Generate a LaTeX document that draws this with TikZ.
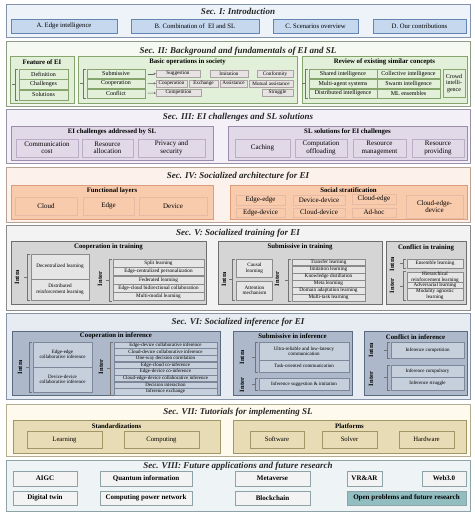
\documentclass[tikz,border=0pt]{standalone}
\usepackage{fontspec}
\setmainfont{Liberation Serif}
\usetikzlibrary{arrows.meta, positioning, calc}

\definecolor{introback}{HTML}{EEF3FA}
\definecolor{introline}{HTML}{8393AB}
\definecolor{introfill}{HTML}{C5D8EE}
\definecolor{introdraw}{HTML}{6285B2}
\definecolor{bgback}{HTML}{F5F9F1}
\definecolor{bgline}{HTML}{8E9C86}
\definecolor{bgfill}{HTML}{E2EFD9}
\definecolor{bgdraw}{HTML}{86A56C}
\definecolor{opfill}{HTML}{E8E3E3}
\definecolor{opdraw}{HTML}{ABA3A3}
\definecolor{chback}{HTML}{F3F1F7}
\definecolor{chline}{HTML}{9892A6}
\definecolor{chfill}{HTML}{E1D9E8}
\definecolor{chdraw}{HTML}{9D8BAE}
\definecolor{archback}{HTML}{FCF2EB}
\definecolor{archline}{HTML}{B9A293}
\definecolor{archfill}{HTML}{F8CBAD}
\definecolor{archdraw}{HTML}{DD9C7C}
\definecolor{trback}{HTML}{F3F3F3}
\definecolor{trline}{HTML}{8C8C8C}
\definecolor{trfill}{HTML}{D5D5D5}
\definecolor{trdraw}{HTML}{6E6E6E}
\definecolor{trcellfill}{HTML}{E5E5E5}
\definecolor{infback}{HTML}{E7ECF2}
\definecolor{infline}{HTML}{8793A6}
\definecolor{inffill}{HTML}{ADB9CA}
\definecolor{infdraw}{HTML}{5B6A80}
\definecolor{infcellfill}{HTML}{C6CFDC}
\definecolor{tutback}{HTML}{FEFAEE}
\definecolor{tutline}{HTML}{B4AC90}
\definecolor{tutfill}{HTML}{E8DCB6}
\definecolor{tutdraw}{HTML}{A19668}
\definecolor{futback}{HTML}{EEF4F6}
\definecolor{futline}{HTML}{8EA3A8}
\definecolor{futfill}{HTML}{F3F3F3}
\definecolor{futopen}{HTML}{92BDC1}

\tikzset{
  secframe/.style={
    draw,
    rectangle,
    line width=0.8pt,
    minimum width=464,
    inner sep=0pt
  },
  grpframe/.style={
    draw,
    rectangle,
    line width=0.6pt,
    inner sep=0pt
  },
  boxcell/.style={
    draw,
    rectangle,
    line width=0.4pt,
    inner sep=0pt,
    align=center
  },
  sectitle/.style={
    font=\fontsize{9}{10}\selectfont\bfseries\itshape,
    text=black!85,
    inner sep=0pt
  },
  grptitle/.style={
    font=\fontsize{6.8}{7}\selectfont\bfseries,
    inner sep=0pt
  },
  sidelabel/.style={
    rotate=90,
    font=\fontsize{6.5}{7}\selectfont\bfseries,
    inner sep=0pt
  },
  braceline/.style={
    draw=black!55,
    line width=0.35pt
  },
  oparrow/.style={
    -{Stealth[length=2.2pt,width=2.2pt]},
    line width=0.35pt,
    black!60,
    shorten <=2.5pt
  },
  introsec/.style={secframe, draw=introline, fill=introback},
  introcell/.style={boxcell, draw=introdraw, fill=introfill, font=\fontsize{6.7}{7}\selectfont},
  bgsec/.style={secframe, draw=bgline, fill=bgback},
  bggrp/.style={grpframe, draw=bgdraw, fill=bgfill},
  bgcell/.style={boxcell, draw=bgdraw, fill=bgfill, font=\fontsize{6}{6.4}\selectfont},
  opcell/.style={boxcell, draw=opdraw, fill=opfill, minimum height=7, font=\fontsize{5.2}{5.5}\selectfont},
  chsec/.style={secframe, draw=chline, fill=chback},
  chgrp/.style={grpframe, draw=chdraw, fill=chfill},
  chcell/.style={boxcell, draw=chdraw!70, fill=chfill, minimum height=18, font=\fontsize{7}{7.4}\selectfont},
  archsec/.style={secframe, draw=archline, fill=archback},
  archgrp/.style={grpframe, draw=archdraw, fill=archfill},
  archcell/.style={boxcell, draw=archdraw!70, fill=archfill, font=\fontsize{7}{7.4}\selectfont},
  trsec/.style={secframe, draw=trline, fill=trback},
  trgrp/.style={grpframe, draw=trdraw, fill=trfill},
  trcell/.style={boxcell, draw=trdraw!80, fill=trcellfill, font=\fontsize{5.2}{5.6}\selectfont},
  infsec/.style={secframe, draw=infline, fill=infback},
  infgrp/.style={grpframe, draw=infdraw, fill=inffill},
  infcell/.style={boxcell, draw=infdraw!80, fill=infcellfill, font=\fontsize{5}{5.4}\selectfont},
  tutsec/.style={secframe, draw=tutline, fill=tutback},
  tutgrp/.style={grpframe, draw=tutdraw, fill=tutfill},
  tutcell/.style={boxcell, draw=tutdraw, fill=tutfill, minimum height=17, font=\fontsize{6.7}{7}\selectfont},
  futsec/.style={secframe, draw=futline, fill=futback},
  futcell/.style={boxcell, draw=futline, fill=futfill, minimum height=14.5, font=\fontsize{7}{7}\selectfont\bfseries}
}

% crochet a gauche d'une pile de cases
\newcommand{\sidebrace}[2]{%
  \draw[braceline] ($(#1.north west)+(-1,0)$) -- ($(#1.north west)+(-4,0)$)
    -- ($(#1.north west |- #2.south west)+(-4,0)$) -- ($(#1.north west |- #2.south west)+(-1,0)$);
  \draw[braceline] ($(#1.north west)!0.5!(#1.north west |- #2.south west)+(-4,0)$) -- ++(-3,0);
}

\begin{document}
\begin{tikzpicture}[x=1pt, y=-1pt]
  \useasboundingbox (0,0) rectangle (474,513);

  % Sec. I
  \node[introsec, minimum height=33] (s1) at (238,20.5) {};
  \node[sectitle] (s1t) at (238,11) {Sec. I: Introduction};
  \node[introcell, minimum width=106, minimum height=14] (edgeint) at (64,26) {A. Edge intelligence};
  \node[introcell, minimum width=128, minimum height=14] (combin) at (195,26) {B. Combination of \ EI and SL};
  \node[introcell, minimum width=85, minimum height=14] (scenar) at (315.5,26) {C. Scenarios overview};
  \node[introcell, minimum width=93, minimum height=14] (contrib) at (419.5,26) {D. Our contributions};

  % Sec. II
  \node[bgsec, minimum height=65] (s2) at (238,73.5) {};
  \node[sectitle] (s2t) at (238,51) {Sec. II: Background and fundamentals of EI and SL};
  \node[bggrp, minimum width=64, minimum height=47] (feat) at (42,79.5) {};
  \node[grptitle] (featt) at (42,62) {Feature of EI};
  \node[bgcell, minimum width=49, minimum height=10] (defin) at (43.5,74) {Definition};
  \node[bgcell, minimum width=49, minimum height=10, below=0pt of defin] (chall) {Challenges};
  \node[bgcell, minimum width=49, minimum height=10, below=0pt of chall] (solut) {Solutions};
  \sidebrace{defin}{solut}

  \node[bggrp, minimum width=219, minimum height=47] (basic) at (187.5,79.5) {};
  \node[grptitle] (basict) at (187.5,62) {Basic operations in society};
  \node[bgcell, minimum width=58, minimum height=9.5] (subm) at (116,73.75) {Submissive};
  \node[bgcell, minimum width=58, minimum height=9.5, below=0pt of subm] (coop) {Cooperation};
  \node[bgcell, minimum width=58, minimum height=9.5, below=0pt of coop] (confl) {Conflict};
  \sidebrace{subm}{confl}
  \node[opcell, minimum width=44] (sugg) at (178,73.75) {Suggestion};
  \node[opcell, minimum width=38] (imit) at (229,73.75) {Imitation};
  \node[opcell, minimum width=36] (conform) at (275,73.75) {Conformity};
  \node[opcell, minimum width=31] (coopop) at (171.5,83.25) {Cooperation};
  \node[opcell, minimum width=29] (exch) at (203.5,83.25) {Exchange};
  \node[opcell, minimum width=27] (assist) at (233.5,83.25) {Assistance};
  \node[opcell, minimum width=44] (mutual) at (271,83.25) {Mutual assistance};
  \node[opcell, minimum width=45] (compet) at (178.5,92.75) {Competition};
  \node[opcell, minimum width=31] (strug) at (277.5,92.75) {Struggle};
  \draw[oparrow] (subm) -- (sugg);
  \draw[oparrow] (coop) -- (coopop);
  \draw[oparrow] (confl) -- (compet);

  \node[bggrp, minimum width=165, minimum height=47] (review) at (384.5,79.5) {};
  \node[grptitle] (reviewt) at (384.5,62) {Review of existing similar concepts};
  \node[bgcell, minimum width=68, minimum height=9.5] (shared) at (343,73.75) {Shared intelligence};
  \node[bgcell, minimum width=68, minimum height=9.5, below=0pt of shared] (multiag) {Multi-agent systems};
  \node[bgcell, minimum width=68, minimum height=9.5, below=0pt of multiag] (distint) {Distributed intelligence};
  \node[bgcell, minimum width=63, minimum height=9.5] (collect) at (408.5,73.75) {Collective intelligence};
  \node[bgcell, minimum width=63, minimum height=9.5, below=0pt of collect] (swarm) {Swarm intelligence};
  \node[bgcell, minimum width=63, minimum height=9.5, below=0pt of swarm] (mlens) {ML ensembles};
  \node[bgcell, minimum width=22, minimum height=28.5] (crowd) at (454,83.25) {Crowd\\intelli-\\gence};
  \sidebrace{shared}{distint}

  % Sec. III
  \node[chsec, minimum height=54] (s3) at (238,136) {};
  \node[sectitle] (s3t) at (238,117) {Sec. III: EI challenges and SL solutions};
  \node[chgrp, minimum width=202, minimum height=34] (addr) at (112,143) {};
  \node[grptitle] (addrt) at (112,132) {EI challenges addressed by SL};
  \node[chcell, minimum width=62] (commcost) at (47,148) {Communication\\cost};
  \node[chcell, minimum width=51] (resalloc) at (107.5,148) {Resource\\allocation};
  \node[chcell, minimum width=67] (privsec) at (171.5,148) {Privacy and\\security};
  \node[chgrp, minimum width=239, minimum height=34] (solfor) at (347.5,143) {};
  \node[grptitle] (solfort) at (347.5,132) {SL solutions for EI challenges};
  \node[chcell, minimum width=55] (caching) at (262.5,148) {Caching};
  \node[chcell, minimum width=52] (offload) at (321,148) {Computation\\offloading};
  \node[chcell, minimum width=53] (resmgmt) at (379.5,148) {Resource\\management};
  \node[chcell, minimum width=52] (resprov) at (438,148) {Resource\\providing};

  % Sec. IV
  \node[archsec, minimum height=55] (s4) at (238,194.5) {};
  \node[sectitle] (s4t) at (238,176) {Sec. IV: Socialized architecture for EI};
  \node[archgrp, minimum width=202, minimum height=34] (layers) at (112,202) {};
  \node[grptitle] (layerst) at (112,191) {Functional layers};
  \node[archcell, minimum width=62, minimum height=18] (cloud) at (46,206) {Cloud};
  \node[archcell, minimum width=51, minimum height=18] (edge) at (108.5,206) {Edge};
  \node[archcell, minimum width=68, minimum height=18] (device) at (173,206) {Device};
  \node[archgrp, minimum width=237, minimum height=34] (strat) at (348.5,202) {};
  \node[grptitle] (stratt) at (348.5,190) {Social stratification};
  \node[archcell, minimum width=49, minimum height=9.5] (edgeedge) at (260.5,200) {Edge-edge};
  \node[archcell, minimum width=49, minimum height=9.5] (edgedev) at (260.5,212.5) {Edge-device};
  \node[archcell, minimum width=52, minimum height=9.5] (devdev) at (319,200) {Device-device};
  \node[archcell, minimum width=52, minimum height=9.5] (clouddev) at (319,212.5) {Cloud-device};
  \node[archcell, minimum width=44, minimum height=9.5] (cloudedge) at (374,199) {Cloud-edge};
  \node[archcell, minimum width=44, minimum height=9.5] (adhoc) at (374,212.5) {Ad-hoc};
  \node[archcell, minimum width=57, minimum height=23] (cloudedgedev) at (434.5,206.5) {Cloud-edge-\\device};

  % Sec. V
  \node[trsec, minimum height=85] (s5) at (238,267.5) {};
  \node[sectitle] (s5t) at (238,233) {Sec. V: Socialized training for EI};
  \node[trgrp, minimum width=195, minimum height=63] (cooptr) at (108.5,272.5) {};
  \node[grptitle] (cooptrt) at (108.5,247) {Cooperation in training};
  \node[sidelabel] (cooptrintra) at (17,277) {Intra};
  \node[trcell, minimum width=58, minimum height=25] (decent) at (60,266.5) {Decentralized learning};
  \node[trcell, minimum width=58, minimum height=21] (distrl) at (60,289.5) {Distributed\\reinforcement learning};
  \sidebrace{decent}{distrl}
  \node[sidelabel] (cooptrinter) at (100,279) {Inter};
  \node[trcell, minimum width=91, minimum height=8] (split) at (158.5,263) {Split learning};
  \node[trcell, minimum width=91, minimum height=8, below=0pt of split] (edgecent) {Edge-centralized personalization};
  \node[trcell, minimum width=91, minimum height=8, below=0pt of edgecent] (fedl) {Federated learning};
  \node[trcell, minimum width=91, minimum height=8, below=0pt of fedl] (bidir) {Edge-cloud bidirectional collaboration};
  \node[trcell, minimum width=91, minimum height=8, below=0pt of bidir] (multimod) {Multi-modal learning};
  \sidebrace{split}{multimod}

  \node[trgrp, minimum width=164, minimum height=63] (subtr) at (300,272.5) {};
  \node[grptitle] (subtrt) at (300,247) {Submissive in training};
  \node[sidelabel] (subtrintra) at (224,279) {Intra};
  \node[trcell, minimum width=36, minimum height=18] (causal) at (254.5,268) {Causal\\learning};
  \node[trcell, minimum width=36, minimum height=19] (attn) at (254.5,290.5) {Attention\\mechanism};
  \sidebrace{causal}{attn}
  \node[sidelabel] (subtrinter) at (277,279) {Inter};
  \node[trcell, minimum width=73, minimum height=6.67] (transf) at (328.5,262.33) {Transfer learning};
  \node[trcell, minimum width=73, minimum height=6.67, below=0pt of transf] (imitl) {Imitation learning};
  \node[trcell, minimum width=73, minimum height=6.67, below=0pt of imitl] (distill) {Knowledge distillation};
  \node[trcell, minimum width=73, minimum height=6.67, below=0pt of distill] (metal) {Meta learning};
  \node[trcell, minimum width=73, minimum height=6.67, below=0pt of metal] (domad) {Domain adaptation learning};
  \node[trcell, minimum width=73, minimum height=6.67, below=0pt of domad] (multask) {Multi-task learning};
  \sidebrace{transf}{multask}

  \node[trgrp, minimum width=80, minimum height=63] (conftr) at (426,272.5) {};
  \node[grptitle] (conftrt) at (426,248) {Conflict in training};
  \node[sidelabel] (conftrintra) at (392,264) {Intra};
  \node[trcell, minimum width=56, minimum height=9] (ensem) at (435,263.5) {Ensemble learning};
  \sidebrace{ensem}{ensem}
  \node[sidelabel] (conftrinter) at (392,286) {Inter};
  \node[trcell, minimum width=56, minimum height=10] (hierrl) at (435,277) {Hierarchical\\reinforcement learning};
  \node[trcell, minimum width=56, minimum height=6] (advers) at (435,285) {Adversarial learning};
  \node[trcell, minimum width=56, minimum height=12] (modag) at (435,294) {Modality agnostic\\learning};
  \sidebrace{hierrl}{modag}

  % Sec. VI
  \node[infsec, minimum height=86] (s6) at (238,356) {};
  \node[sectitle] (s6t) at (238,322) {Sec. VI: Socialized inference for EI};
  \node[infgrp, minimum width=208, minimum height=64] (coopinf) at (116,363) {};
  \node[grptitle] (coopinft) at (116,336) {Cooperation in inference};
  \node[sidelabel] (coopinfintra) at (20,367) {Intra};
  \node[infcell, minimum width=59, minimum height=25] (eeinf) at (62.5,354.5) {Edge-edge\\collaborative inference};
  \node[infcell, minimum width=59, minimum height=25] (ddinf) at (62.5,379.5) {Device-device\\collaborative inference};
  \sidebrace{eeinf}{ddinf}
  \node[sidelabel] (coopinfinter) at (101,367) {Inter};
  \node[infcell, minimum width=103, minimum height=6.25] (edcollab) at (165.5,345.125) {Edge-device collaborative inference};
  \node[infcell, minimum width=103, minimum height=6.25, below=0pt of edcollab] (cdcollab) {Cloud-device collaborative inference};
  \node[infcell, minimum width=103, minimum height=6.25, below=0pt of cdcollab] (oneway) {One-way decision correlation};
  \node[infcell, minimum width=103, minimum height=6.25, below=0pt of oneway] (ecco) {Edge-cloud co-inference};
  \node[infcell, minimum width=103, minimum height=6.25, below=0pt of ecco] (edco) {Edge-device co-inference};
  \node[infcell, minimum width=103, minimum height=6.25, below=0pt of edco] (cedcollab) {Cloud-edge-device collaborative inference};
  \node[infcell, minimum width=103, minimum height=6.25, below=0pt of cedcollab] (decint) {Decision interaction};
  \node[infcell, minimum width=103, minimum height=6.25, below=0pt of decint] (infexch) {Inference exchange};
  \sidebrace{edcollab}{infexch}

  \node[infgrp, minimum width=119, minimum height=64] (subinf) at (292.5,363) {};
  \node[grptitle] (subinft) at (292.5,336) {Submissive in inference};
  \node[sidelabel] (subinfintra) at (242,357) {Intra};
  \node[infcell, minimum width=90, minimum height=18] (urllc) at (304,351) {Ultra-reliable and low-latency\\communication};
  \node[infcell, minimum width=90, minimum height=12] (taskcom) at (304,366) {Task-oriented communication};
  \sidebrace{urllc}{taskcom}
  \node[sidelabel] (subinfinter) at (242,385) {Inter};
  \node[infcell, minimum width=90, minimum height=12] (suggimit) at (304,384) {Inference suggestion \& imitation};
  \sidebrace{suggimit}{suggimit}

  \node[infgrp, minimum width=103, minimum height=64] (confinf) at (415.5,363) {};
  \node[grptitle] (confinft) at (415.5,337) {Conflict in inference};
  \node[sidelabel] (confinfintra) at (371,350) {Intra};
  \node[infcell, minimum width=73, minimum height=16] (infcomp) at (427.5,350) {Inference competition};
  \sidebrace{infcomp}{infcomp}
  \node[sidelabel] (confinfinter) at (371,379) {Inter};
  \node[infcell, minimum width=73, minimum height=12] (infcompul) at (427.5,371) {Inference compulsory};
  \node[infcell, minimum width=73, minimum height=13] (infstrug) at (427.5,383.5) {Inference struggle};
  \sidebrace{infcompul}{infstrug}

  % Sec. VII
  \node[tutsec, minimum height=52] (s7) at (238,430) {};
  \node[sectitle] (s7t) at (238,412) {Sec. VII: Tutorials for implementing SL};
  \node[tutgrp, minimum width=207, minimum height=33] (standard) at (116.5,436.5) {};
  \node[grptitle] (standardt) at (116.5,426) {Standardizations};
  \node[tutcell, minimum width=75] (learning) at (64.5,439.5) {Learning};
  \node[tutcell, minimum width=75] (computing) at (161.5,439.5) {Computing};
  \node[tutgrp, minimum width=233, minimum height=33] (platf) at (349.5,436.5) {};
  \node[grptitle] (platft) at (349.5,426) {Platforms};
  \node[tutcell, minimum width=54] (software) at (277,439.5) {Software};
  \node[tutcell, minimum width=55] (solver) at (349.5,439.5) {Solver};
  \node[tutcell, minimum width=55] (hardware) at (426.5,439.5) {Hardware};

  % Sec. VIII
  \node[futsec, minimum height=51] (s8) at (238,485.5) {};
  \node[sectitle] (s8t) at (238,466) {Sec. VIII: Future applications and future research};
  \node[futcell, minimum width=64] (aigc) at (45,478.5) {AIGC};
  \node[futcell, minimum width=64] (twin) at (45,498) {Digital twin};
  \node[futcell, minimum width=92] (quantum) at (146,478.5) {Quantum information};
  \node[futcell, minimum width=92] (cpn) at (146,498) {Computing power network};
  \node[futcell, minimum width=75] (metav) at (272.5,478.5) {Metaverse};
  \node[futcell, minimum width=75] (chain) at (272.5,498) {Blockchain};
  \node[futcell, minimum width=35] (vrar) at (364.5,478.5) {VR\&AR};
  \node[futcell, minimum width=44] (web3) at (444,478.5) {Web3.0};
  \node[futcell, fill=futopen, minimum width=119] (openpb) at (406.5,498) {Open problems and future research};
\end{tikzpicture}
\end{document}
